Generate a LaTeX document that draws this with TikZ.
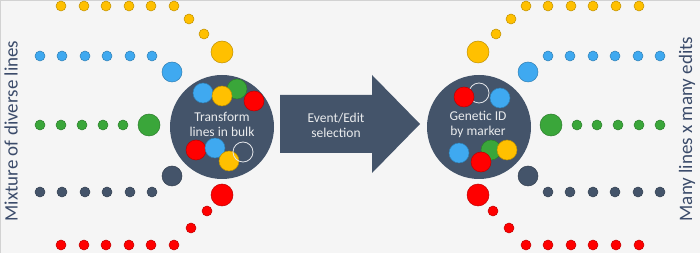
\documentclass[tikz,border=0pt]{standalone}
\usepackage{fontspec}
\setmainfont{Carlito}
\definecolor{bg}{HTML}{F5F5F5}
\definecolor{slate}{HTML}{44546A}
\definecolor{cyel}{HTML}{FFC000}
\definecolor{cblu}{HTML}{3FA9F0}
\definecolor{cgrn}{HTML}{3AA63A}
\definecolor{cred}{HTML}{FF0000}
\definecolor{txt}{HTML}{3B4B6A}
\begin{document}
\begin{tikzpicture}[x=1pt,y=-1pt,
  dot/.style={circle,inner sep=0pt,minimum size=10pt,fill=#1,draw=#1!75!black,line width=0.5pt},
  mid/.style={dot=#1,minimum size=20pt},
  big/.style={dot=#1,minimum size=22pt},
  hub/.style={circle,fill=slate,minimum size=104pt,inner sep=0pt},
  ring/.style={circle,inner sep=0pt,minimum size=20pt,draw=white!85!slate,line width=0.8pt},
  hubtext/.style={text=white!88!slate,font=\fontsize{13.5}{15}\selectfont,align=center},
  side/.style={text=txt,font=\fontsize{19}{22}\selectfont,rotate=90}]
\fill[bg] (0,0) rectangle (700,253);
\draw[gray!35] (0.25,0.25) rectangle (699.75,252.75);
% hubs
\node[hub] (lhub) at (222,127) {};
\node[hub] (rhub) at (479,127) {};
% arrow
\fill[slate] (280,95) -- (372,95) -- (372,75) -- (420,124) -- (372,173) -- (372,153) -- (280,153) -- cycle;
\node[hubtext] (arrtext) at (336,125) {Event/Edit\\selection};
% left lines
\foreach \x [count=\i] in {61,84,106,129,151,174} \node[dot=cyel] (ly\i) at (\x,6) {};
\node[dot=cyel] (ly7) at (189,19) {};
\node[dot=cyel] (ly8) at (204,34) {};
\node[big=cyel] (ly9) at (222,52) {};
\foreach \x [count=\i] in {40,62,85,107,130,152} \node[dot=cblu] (lb\i) at (\x,56) {};
\node[mid=cblu] (lb7) at (172,72) {};
\foreach \x [count=\i] in {40,61,82,103,123} \node[dot=cgrn] (lg\i) at (\x,125) {};
\node[big=cgrn] (lg6) at (149,125) {};
\foreach \x [count=\i] in {40,62,85,107,130,152} \node[dot=slate] (ld\i) at (\x,192) {};
\node[mid=slate] (ld7) at (172,176) {};
\node[big=cred] (lr1) at (222,195) {};
\node[dot=cred] (lr2) at (207,211) {};
\node[dot=cred] (lr3) at (191,228) {};
\foreach \x [count=\i from 4] in {61,84,106,129,151,174} \node[dot=cred] (lr\i) at (\x,245) {};
% right lines
\foreach \x [count=\i] in {526,548,571,593,616,639} \node[dot=cyel] (ry\i) at (\x,6) {};
\node[dot=cyel] (ry7) at (511,19) {};
\node[dot=cyel] (ry8) at (496,34) {};
\node[big=cyel] (ry9) at (478,52) {};
\foreach \x [count=\i] in {548,570,593,615,638,660} \node[dot=cblu] (rb\i) at (\x,56) {};
\node[mid=cblu] (rb7) at (528,72) {};
\foreach \x [count=\i] in {577,597,618,639,660} \node[dot=cgrn] (rg\i) at (\x,125) {};
\node[big=cgrn] (rg6) at (551,125) {};
\foreach \x [count=\i] in {548,570,593,615,638,660} \node[dot=slate] (rd\i) at (\x,192) {};
\node[mid=slate] (rd7) at (528,176) {};
\node[big=cred] (rr1) at (478,195) {};
\node[dot=cred] (rr2) at (493,211) {};
\node[dot=cred] (rr3) at (509,228) {};
\foreach \x [count=\i from 4] in {526,548,571,593,616,639} \node[dot=cred] (rr\i) at (\x,245) {};
% left hub contents
\node[mid=cgrn] (lhg) at (237,89) {};
\node[mid=cblu] (lhb) at (203,93) {};
\node[mid=cyel] (lhy) at (222,96) {};
\node[mid=cred] (lhr) at (254,101) {};
\node[hubtext] (lht) at (222,124.5) {Transform\\lines in bulk};
\node[mid=cred] (lhr2) at (196,150) {};
\node[mid=cblu] (lhb2) at (215,148) {};
\node[mid=cyel] (lhy2) at (229,161) {};
\node[ring] (lhw) at (243,152) {};
% right hub contents
\node[ring] (rhw) at (479,93) {};
\node[mid=cred] (rhr) at (464,97) {};
\node[mid=cblu] (rhb) at (500,98) {};
\node[hubtext] (rht) at (478,124.5) {Genetic ID\\by marker};
\node[mid=cblu] (rhb2) at (459,153) {};
\node[mid=cgrn] (rhg2) at (491,150) {};
\node[mid=cyel] (rhy2) at (507,150) {};
\node[mid=cred] (rhr2) at (481,162) {};
% side labels
\node[side] (lside) at (11,131) {Mixture of diverse lines};
\node[side] (rside) at (687,129) {Many lines x many edits};
\end{tikzpicture}
\end{document}
